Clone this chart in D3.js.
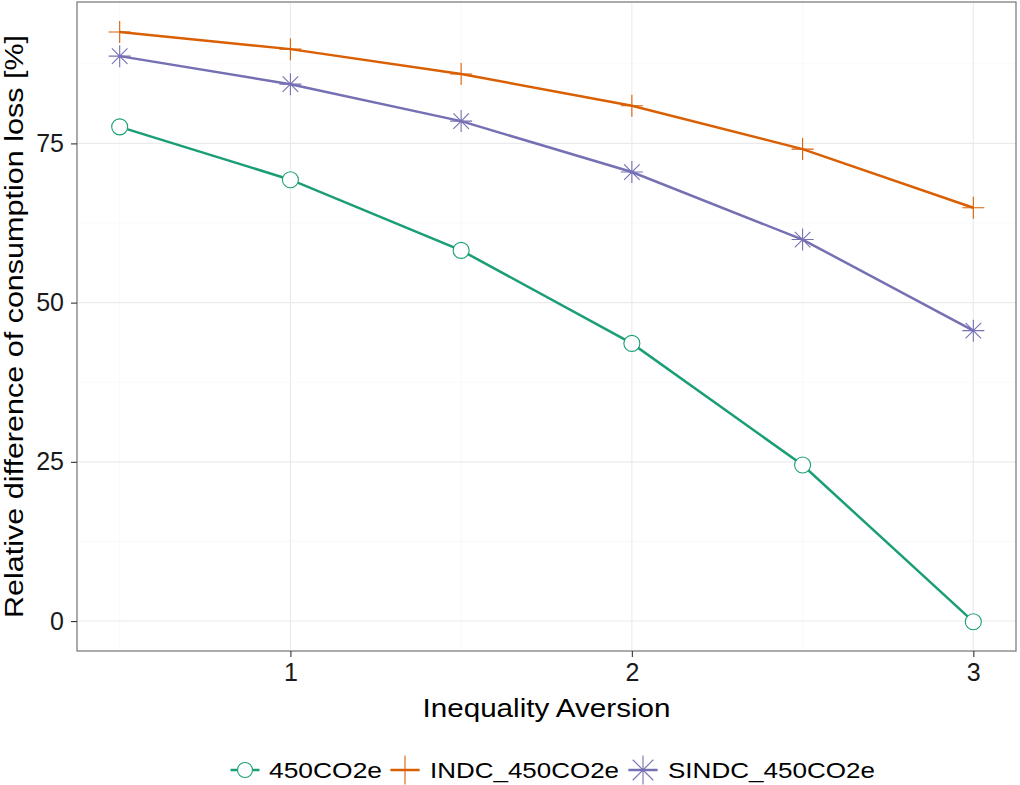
<!DOCTYPE html>
<html>
<head>
<meta charset="utf-8">
<script src="https://cdn.jsdelivr.net/npm/d3@7"></script>
<style>
  body { margin: 0; background: #fff; }
  text { font-family: "Liberation Sans", Arial, sans-serif; }
</style>
</head>
<body>
<div id="chart"></div>
<script>
const aversion = [0.5, 1, 1.5, 2, 2.5, 3];
const series = ["450CO2e", "INDC_450CO2e", "SINDC_450CO2e"];
const loss450 = [77.6, 69.3, 58.2, 43.6, 24.5, -0.1];
const lossINDC = [92.5, 89.8, 85.9, 80.9, 74.1, 64.9];
const lossSINDC = [88.7, 84.3, 78.5, 70.5, 59.9, 45.6];
const xTicks = [1, 2, 3];
const yTicks = [0, 25, 50, 75];

const colors = ["#1b9e77", "#d95f02", "#7570b3"];
const shapes = ["circle", "plus", "star"];
const values = [loss450, lossINDC, lossSINDC];

const width = 1020, height = 785;
const margin = {top: 2, right: 4, bottom: 134, left: 77};
const innerW = width - margin.left - margin.right;
const innerH = height - margin.top - margin.bottom;

const svg = d3.select("#chart")
    .append("svg")
    .attr("width", width)
    .attr("height", height);

const g = svg.append("g")
    .attr("transform", "translate(" + margin.left + "," + margin.top + ")");

const xScale = d3.scaleLinear().domain([0.375, 3.125]).range([0, innerW]);
const yScale = d3.scaleLinear().domain([-4.7, 97.2]).range([innerH, 0]);

// grid
const minorX = [0.5, 1.5, 2.5];
const minorY = [12.5, 37.5, 62.5, 87.5];
g.append("g").selectAll("line").data(minorX).enter().append("line")
    .attr("x1", d => xScale(d)).attr("x2", d => xScale(d))
    .attr("y1", 0).attr("y2", innerH)
    .attr("stroke", "#f5f5f5").attr("stroke-width", 0.6);
g.append("g").selectAll("line").data(minorY).enter().append("line")
    .attr("y1", d => yScale(d)).attr("y2", d => yScale(d))
    .attr("x1", 0).attr("x2", innerW)
    .attr("stroke", "#f5f5f5").attr("stroke-width", 0.6);
g.append("g").selectAll("line").data(xTicks).enter().append("line")
    .attr("x1", d => xScale(d)).attr("x2", d => xScale(d))
    .attr("y1", 0).attr("y2", innerH)
    .attr("stroke", "#ebebeb").attr("stroke-width", 1.1);
g.append("g").selectAll("line").data(yTicks).enter().append("line")
    .attr("y1", d => yScale(d)).attr("y2", d => yScale(d))
    .attr("x1", 0).attr("x2", innerW)
    .attr("stroke", "#ebebeb").attr("stroke-width", 1.1);

// lines
const line = d3.line()
    .x((d, i) => xScale(aversion[i]))
    .y(d => yScale(d));

const drawShape = (sel, shape, color, r) => {
    if (shape === "circle") {
        sel.append("circle").attr("r", r)
            .attr("fill", "#fff").attr("stroke", color).attr("stroke-width", 1.1);
    } else if (shape === "plus") {
        sel.append("path")
            .attr("d", "M" + (-r) + ",0H" + r + "M0," + (-r) + "V" + r)
            .attr("stroke", color).attr("stroke-width", 1.1).attr("fill", "none");
    } else {
        const a = r * Math.SQRT1_2;
        sel.append("path")
            .attr("d", "M" + (-r) + ",0H" + r + "M0," + (-r) + "V" + r +
                "M" + (-a) + "," + (-a) + "L" + a + "," + a +
                "M" + (-a) + "," + a + "L" + a + "," + (-a))
            .attr("stroke", color).attr("stroke-width", 1.1).attr("fill", "none");
    }
};

values.forEach((vals, si) => {
    g.append("path")
        .datum(vals)
        .attr("d", line)
        .attr("fill", "none")
        .attr("stroke", colors[si])
        .attr("stroke-width", 2.5);

    g.append("g").selectAll("g")
        .data(vals)
        .enter()
        .append("g")
        .attr("transform", (d, i) => "translate(" + xScale(aversion[i]) + "," + yScale(d) + ")")
        .each(function () { drawShape(d3.select(this), shapes[si], colors[si], si === 0 ? 8 : 11); });
});

// panel border
g.append("rect")
    .attr("width", innerW).attr("height", innerH)
    .attr("fill", "none").attr("stroke", "#7f7f7f").attr("stroke-width", 1.3);

// axes
const xAxis = g.append("g")
    .attr("transform", "translate(0," + innerH + ")")
    .call(d3.axisBottom(xScale).tickValues(xTicks).tickFormat(d3.format("d")).tickSize(6).tickPadding(6));
const yAxis = g.append("g")
    .call(d3.axisLeft(yScale).tickValues(yTicks).tickSize(6).tickPadding(7));
[xAxis, yAxis].forEach(ax => {
    ax.select(".domain").remove();
    ax.selectAll("line").attr("stroke", "#333").attr("stroke-width", 1.1);
    ax.selectAll("text").attr("font-size", 25).attr("fill", "#1a1a1a")
        .style("font-family", "'Liberation Sans', Arial, sans-serif");
});

// titles
svg.append("text")
    .attr("x", margin.left + innerW / 2)
    .attr("y", 717)
    .attr("text-anchor", "middle")
    .attr("font-size", 26)
    .attr("textLength", 248)
    .attr("lengthAdjust", "spacingAndGlyphs")
    .text("Inequality Aversion");

svg.append("text")
    .attr("transform", "translate(22.5," + (margin.top + innerH / 2) + ") rotate(-90)")
    .attr("text-anchor", "middle")
    .attr("font-size", 26.5)
    .attr("textLength", 583)
    .attr("lengthAdjust", "spacingAndGlyphs")
    .text("Relative difference of consumption loss [%]");

// legend
const legendX = [245, 405, 643];
const legendW = [113, 189, 207];
const legend = svg.append("g").selectAll("g")
    .data(series)
    .enter()
    .append("g")
    .attr("transform", (d, i) => "translate(" + legendX[i] + ",770)");
legend.append("line")
    .attr("x1", -14.5).attr("x2", 14.5)
    .attr("stroke", (d, i) => colors[i]).attr("stroke-width", 2.5);
legend.each(function (d, i) { drawShape(d3.select(this), shapes[i], colors[i], i === 0 ? 7.5 : 14.5); });
legend.append("text")
    .attr("x", (d, i) => i === 0 ? 24 : 25)
    .attr("y", 6)
    .attr("dy", "0.1em")
    .attr("font-size", 22.5)
    .attr("textLength", (d, i) => legendW[i])
    .attr("lengthAdjust", "spacingAndGlyphs")
    .text(d => d);
</script>
</body>
</html>
